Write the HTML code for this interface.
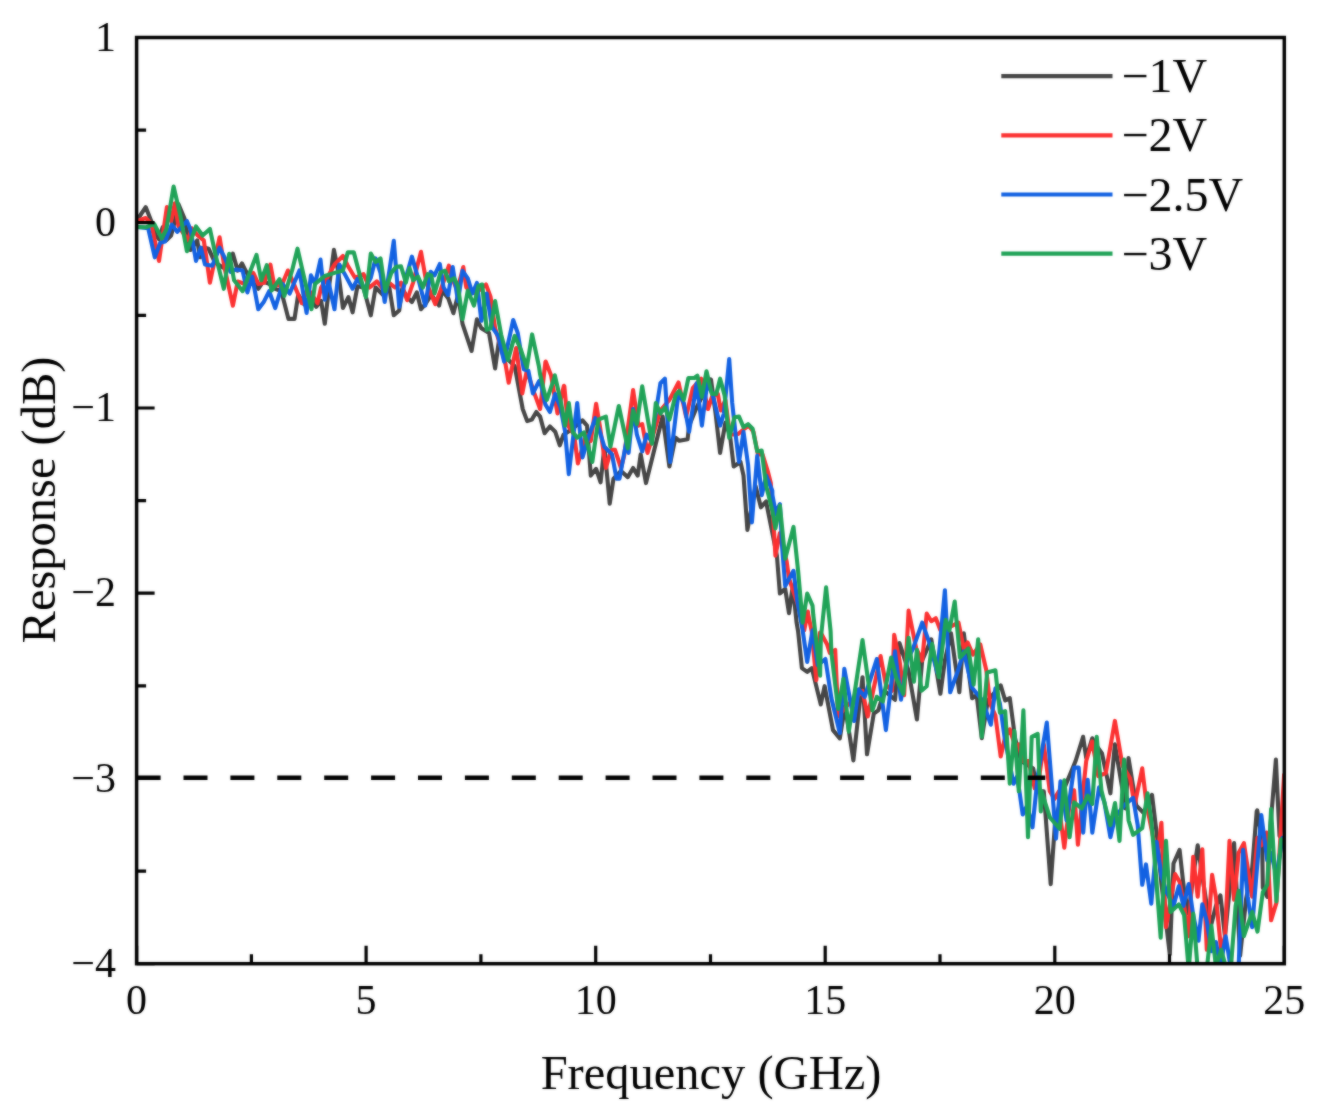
<!DOCTYPE html>
<html lang="en"><head><meta charset="utf-8"><title>Frequency response</title>
<style>
html,body{margin:0;padding:0;background:#fff;}
body{width:1322px;height:1117px;overflow:hidden;}
svg{display:block;}
text{font-family:"Liberation Serif","Times New Roman",serif;fill:#000;}
.tk{font-size:42px;}
.lb{font-size:48.5px;}
.lg{font-size:48px;}
</style></head><body>
<svg width="1322" height="1117" viewBox="0 0 1322 1117">
<defs><clipPath id="pc"><rect x="136.6" y="37.5" width="1147.7" height="926.2"/></clipPath>
<filter id="soft" x="0" y="0" width="1322" height="1117" filterUnits="userSpaceOnUse" color-interpolation-filters="sRGB"><feGaussianBlur in="SourceGraphic" stdDeviation="0.9" result="b"/><feComposite in="SourceGraphic" in2="b" operator="arithmetic" k1="0" k2="0.5" k3="0.5" k4="0"/></filter></defs>
<g filter="url(#soft)">
<rect width="1322" height="1117" fill="#fff"/>
<g clip-path="url(#pc)" fill="none" stroke-width="4.1" stroke-linejoin="round" stroke-linecap="round">
<path d="M137.3 219.8 L145.7 207.1 L151.2 221.0 L156.0 235.5 L159.0 239.1 L162.7 227.0 L166.3 240.4 L171.1 235.5 L174.2 223.4 L178.4 204.0 L184.5 218.6 L190.5 250.0 L197.2 240.4 L200.2 257.3 L203.8 247.6 L208.7 248.8 L214.7 262.1 L222.0 267.0 L226.8 269.4 L232.9 253.7 L237.7 270.6 L242.0 263.4 L246.2 271.8 L252.2 281.5 L258.3 288.8 L263.1 281.5 L269.2 283.9 L275.2 288.8 L281.3 291.2 L288.5 318.9 L294.5 318.9 L298.2 294.7 L304.2 304.4 L310.3 297.1 L316.3 306.8 L321.1 300.8 L324.8 323.8 L329.6 282.6 L333.9 249.9 L338.1 270.5 L342.9 308.0 L348.4 297.1 L352.6 312.3 L357.5 286.2 L363.5 287.5 L370.8 315.3 L375.6 287.5 L382.9 294.7 L388.9 285.0 L393.8 315.3 L399.2 310.5 L402.2 288.7 L407.1 297.1 L411.9 302.0 L416.8 292.3 L421.0 309.2 L425.2 304.4 L431.3 294.7 L439.1 305.6 L442.1 290.5 L448.2 298.1 L453.4 313.2 L458.0 295.1 L462.5 323.8 L471.6 351.0 L476.9 319.3 L481.4 328.3 L489.0 332.9 L495.1 368.4 L499.6 335.9 L507.2 358.6 L514.7 366.2 L522.7 409.0 L527.2 421.1 L531.8 419.6 L536.3 412.0 L540.1 416.6 L544.6 433.2 L549.9 426.4 L555.2 431.7 L559.8 445.3 L563.5 434.7 L572.6 428.7 L582.5 420.3 L587.0 425.6 L590.8 475.6 L596.1 468.8 L600.6 482.4 L604.4 446.8 L609.7 503.6 L613.5 478.6 L621.0 471.0 L627.8 477.1 L633.1 468.0 L637.7 475.6 L640.7 454.4 L646.0 483.1 L655.8 443.8 L662.6 416.6 L669.4 466.5 L675.5 437.7 L679.3 440.8 L687.6 439.3 L689.1 425.6 L696.6 407.5 L702.7 395.4 L711.0 379.5 L715.6 413.5 L720.1 452.9 L725.4 422.6 L729.9 434.7 L733.7 466.5 L740.5 462.0 L743.5 475.6 L747.4 529.9 L755.6 486.2 L760.9 507.3 L761.0 507.2 L766.2 501.3 L766.3 502.7 L776.9 555.6 L779.9 593.5 L785.2 588.9 L789.0 613.1 L792.8 585.9 L796.6 622.7 L798.1 631.3 L801.9 668.1 L807.2 671.9 L811.8 668.1 L820.8 704.4 L824.6 686.2 L833.0 730.1 L839.8 738.4 L845.1 705.9 L853.4 760.4 L862.5 677.2 L867.0 754.3 L873.8 713.5 L878.3 710.4 L884.4 690.8 L895.0 699.8 L899.5 643.1 L908.6 671.1 L916.9 719.5 L922.2 660.5 L931.3 639.3 L940.4 693.8 L944.9 660.5 L951.0 633.3 L959.3 692.3 L963.8 633.3 L972.1 698.3 L976.7 695.3 L981.8 738.3 L987.8 700.5 L1000.7 685.4 L1005.2 700.5 L1009.8 698.2 L1015.1 738.3 L1021.1 761.0 L1033.2 768.6 L1037.7 791.3 L1043.8 791.3 L1050.7 884.1 L1055.2 820.5 L1063.5 790.3 L1075.6 761.0 L1083.1 736.8 L1086.2 758.0 L1092.2 738.3 L1096.7 745.9 L1102.0 753.5 L1110.4 793.3 L1114.9 744.4 L1125.6 808.4 L1128.5 758.0 L1136.2 805.4 L1143.7 813.0 L1152.0 794.8 L1157.3 838.7 L1161.4 883.2 L1169.8 954.3 L1173.5 863.5 L1179.6 849.9 L1184.1 890.8 L1188.7 913.5 L1193.2 875.6 L1197.7 845.4 L1202.3 875.6 L1206.8 905.9 L1211.4 924.1 L1215.9 905.9 L1220.4 895.3 L1225.0 936.2 L1229.5 890.8 L1234.1 843.1 L1240.1 955.8 L1246.2 898.3 L1252.2 868.1 L1256.7 811.3 L1257.2 810.3 L1262.2 840.5 L1262.8 887.7 L1267.3 896.8 L1270.0 831.3 L1275.9 759.6 L1279.5 835.9 L1284.1 803.9" stroke="#454545"/>
<path d="M137.3 221.0 L145.7 218.0 L151.2 223.4 L159.0 260.9 L166.9 207.1 L171.1 221.0 L174.8 203.4 L178.4 225.8 L188.1 240.4 L191.7 228.3 L197.8 235.5 L203.8 240.4 L209.9 282.7 L219.6 237.3 L224.4 267.0 L232.9 305.7 L237.7 281.5 L245.0 283.9 L253.4 273.0 L258.3 283.9 L264.3 282.7 L270.4 264.6 L274.0 283.9 L281.3 286.3 L287.9 270.5 L293.3 282.6 L301.8 303.2 L307.8 288.7 L317.5 303.2 L321.1 287.5 L327.2 277.8 L334.5 264.5 L342.9 256.0 L347.8 265.7 L355.0 277.8 L363.5 274.1 L369.6 287.5 L376.8 281.4 L382.9 288.7 L388.9 282.6 L395.0 287.5 L401.0 282.6 L407.1 300.2 L413.1 282.6 L421.0 251.8 L426.4 282.6 L435.3 304.1 L440.6 290.5 L448.9 265.6 L451.2 275.4 L457.2 290.5 L463.3 267.1 L466.3 287.5 L475.4 293.5 L486.0 284.5 L490.5 296.6 L495.1 328.3 L501.1 348.0 L505.6 364.6 L508.7 382.8 L516.2 348.0 L522.3 393.4 L526.8 370.7 L534.4 393.4 L540.1 409.0 L545.4 362.1 L545.7 361.6 L551.0 375.2 L551.4 377.2 L557.5 413.5 L563.9 385.8 L564.3 386.3 L568.1 425.6 L574.1 434.7 L577.9 463.5 L586.2 434.7 L590.8 440.8 L596.1 403.7 L599.8 425.6 L605.9 468.0 L611.2 449.8 L615.0 449.8 L621.0 468.0 L624.1 455.9 L633.1 390.1 L638.4 425.6 L642.2 424.1 L647.5 452.9 L651.3 440.8 L660.4 410.5 L669.4 399.9 L678.5 382.5 L686.1 416.6 L692.9 387.8 L701.2 378.7 L708.0 409.0 L712.5 395.4 L717.8 393.9 L720.8 410.5 L725.4 399.9 L729.9 434.7 L738.2 434.0 L744.3 428.7 L748.8 425.6 L753.4 431.7 L757.9 454.4 L762.5 454.4 L767.7 471.0 L770.8 483.1 L773.9 529.9 L775.4 555.6 L779.9 533.0 L786.7 561.7 L789.0 578.3 L796.6 601.0 L804.1 625.2 L804.2 630.3 L807.9 611.6 L808.0 613.6 L811.7 631.3 L816.3 680.2 L820.1 632.5 L820.8 632.8 L826.9 643.9 L829.9 653.0 L835.2 649.9 L838.2 716.5 L846.6 705.9 L855.6 698.3 L862.5 690.8 L867.7 716.5 L880.6 656.0 L885.9 684.7 L892.0 690.8 L894.2 634.8 L899.5 660.5 L904.1 695.3 L908.6 610.6 L916.2 648.4 L922.2 660.5 L926.7 613.6 L931.3 621.2 L935.8 618.2 L940.4 630.3 L949.4 627.2 L958.5 622.7 L963.8 648.4 L967.6 642.4 L972.9 654.5 L980.3 644.5 L986.3 670.3 L990.1 703.5 L995.4 715.6 L1000.7 756.5 L1005.2 736.8 L1009.8 729.3 L1015.1 745.9 L1018.8 744.4 L1022.6 761.0 L1028.7 761.0 L1034.7 788.3 L1039.3 776.2 L1043.8 744.4 L1049.8 791.3 L1054.4 798.9 L1058.9 791.3 L1059.8 813.0 L1064.3 847.7 L1069.6 803.9 L1074.1 790.3 L1077.9 844.7 L1083.2 790.3 L1086.2 761.0 L1092.2 741.4 L1098.3 776.2 L1105.8 773.1 L1114.9 720.9 L1122.5 765.6 L1130.1 778.2 L1134.6 805.4 L1142.2 768.3 L1146.7 805.4 L1152.8 835.6 L1157.3 856.8 L1161.4 822.7 L1166.0 927.1 L1175.1 874.1 L1179.6 881.7 L1184.1 905.9 L1188.7 936.2 L1193.2 856.7 L1197.7 896.8 L1202.3 849.2 L1206.8 949.8 L1212.1 874.9 L1215.9 896.8 L1221.2 951.3 L1225.0 936.2 L1229.5 840.8 L1234.1 899.8 L1238.6 853.0 L1243.9 843.1 L1247.7 868.1 L1252.2 896.8 L1257.5 837.8 L1261.3 845.4 L1266.6 832.5 L1271.1 920.3 L1276.4 902.9 L1280.5 835.9 L1284.1 774.7" stroke="#fb3030"/>
<path d="M137.3 227.0 L148.2 228.3 L154.8 257.3 L160.3 242.8 L165.1 241.6 L171.8 224.6 L177.2 231.9 L186.9 221.0 L190.5 229.5 L196.0 260.9 L200.8 247.6 L205.0 264.6 L212.3 265.8 L219.6 247.6 L225.6 259.7 L230.5 271.8 L236.5 269.4 L242.6 270.6 L247.4 292.4 L252.2 276.7 L258.3 309.3 L263.7 302.1 L269.2 291.2 L275.2 308.1 L282.5 283.9 L289.7 293.5 L299.4 270.5 L306.6 312.9 L310.9 275.4 L315.1 283.8 L320.5 259.6 L324.8 299.6 L328.4 281.4 L334.5 309.2 L339.3 264.5 L344.1 272.9 L352.6 288.7 L357.5 279.0 L364.7 288.7 L370.8 277.8 L375.6 258.4 L380.5 272.9 L384.7 302.0 L393.8 240.9 L399.2 306.8 L405.9 277.8 L411.9 256.6 L418.0 277.8 L425.2 305.6 L430.7 271.7 L434.5 275.4 L439.8 264.0 L443.6 287.5 L448.2 295.1 L452.7 267.1 L458.0 301.1 L462.5 270.8 L467.8 278.4 L472.4 293.5 L476.9 283.0 L481.4 320.8 L486.7 293.5 L492.0 326.8 L498.1 335.9 L504.1 361.6 L513.2 320.0 L517.7 332.9 L523.8 369.2 L528.3 370.7 L532.9 393.4 L538.9 381.3 L540.1 380.3 L545.4 404.5 L549.9 412.0 L555.2 393.9 L560.5 407.5 L565.1 431.7 L568.8 474.1 L577.2 403.0 L582.5 457.4 L589.3 434.7 L595.3 418.1 L599.8 431.7 L604.4 446.8 L612.0 454.4 L616.5 478.6 L619.5 478.6 L627.1 437.7 L628.6 452.9 L633.1 409.0 L636.9 434.7 L642.2 451.4 L646.7 434.7 L651.3 440.8 L660.4 383.3 L664.9 378.7 L670.2 462.0 L678.5 392.4 L683.8 403.0 L689.1 431.7 L696.6 383.3 L701.9 425.6 L707.2 383.3 L712.5 393.9 L720.1 425.6 L723.9 413.5 L729.2 359.1 L732.2 403.0 L736.0 437.7 L739.0 462.0 L743.5 431.7 L748.1 465.0 L751.9 522.4 L757.2 455.9 L761.7 493.7 L761.8 495.1 L766.2 475.6 L772.3 490.7 L772.4 495.1 L775.3 510.4 L775.4 514.8 L779.8 504.3 L779.9 504.2 L782.2 548.1 L785.2 585.9 L793.5 570.8 L797.3 601.0 L802.6 629.8 L807.2 662.0 L812.5 630.3 L817.8 665.1 L825.4 659.0 L831.4 698.3 L839.8 733.1 L844.3 668.8 L854.1 721.0 L858.7 689.3 L864.7 696.8 L876.8 659.0 L885.9 730.1 L895.0 651.4 L901.0 699.8 L907.1 660.5 L913.1 648.4 L922.2 622.7 L929.8 643.9 L937.3 672.6 L944.9 590.2 L950.2 692.3 L957.8 671.1 L963.8 651.4 L972.1 687.7 L982.5 700.5 L990.8 724.7 L995.4 688.4 L999.9 703.5 L1004.5 736.8 L1013.5 783.7 L1017.3 776.2 L1022.7 814.5 L1027.2 805.4 L1032.5 827.3 L1037.7 776.2 L1046.8 722.5 L1052.9 798.9 L1056.0 838.7 L1060.5 781.2 L1066.6 820.5 L1074.1 767.6 L1078.7 767.6 L1083.2 832.6 L1087.7 779.7 L1092.3 832.6 L1099.1 787.2 L1104.4 802.4 L1110.4 837.2 L1115.0 817.5 L1124.1 805.4 L1133.1 797.8 L1137.7 825.1 L1142.2 884.8 L1146.0 864.4 L1151.3 903.7 L1156.6 841.7 L1161.4 875.6 L1166.0 890.8 L1173.5 905.9 L1178.8 886.2 L1183.4 905.9 L1188.7 884.0 L1193.2 915.0 L1198.5 940.7 L1202.3 904.4 L1206.8 921.0 L1211.4 951.3 L1215.9 942.2 L1220.4 966.4 L1225.7 936.2 L1231.0 969.4 L1234.1 964.9 L1238.6 967.9 L1243.1 849.9 L1247.7 896.8 L1252.2 927.1 L1261.3 815.1 L1267.3 860.5 L1271.1 853.0 L1276.4 875.6 L1282.5 837.8" stroke="#1261e2"/>
<path d="M137.3 227.0 L145.7 227.3 L154.2 224.0 L161.7 238.5 L166.3 229.5 L173.6 186.5 L180.2 214.9 L186.9 251.2 L196.0 226.4 L202.6 235.5 L209.9 228.9 L215.3 253.7 L223.8 288.8 L229.2 253.7 L234.1 280.3 L242.6 291.2 L256.5 254.9 L261.3 280.3 L266.8 265.2 L271.6 290.6 L279.5 279.1 L284.3 296.0 L292.1 270.5 L297.5 248.7 L304.2 277.8 L311.5 309.2 L315.1 283.8 L324.8 276.0 L334.5 272.9 L342.9 270.5 L347.8 252.4 L353.8 252.4 L359.9 275.4 L365.9 297.1 L370.8 253.6 L375.6 262.0 L380.5 258.4 L385.3 291.1 L391.3 272.9 L396.2 266.9 L401.0 266.3 L405.9 282.6 L409.5 268.1 L413.1 280.2 L418.0 276.6 L422.8 287.5 L427.7 274.1 L431.3 275.4 L434.5 293.5 L440.6 272.4 L445.1 270.8 L448.9 281.4 L454.2 278.4 L458.0 286.0 L462.5 319.3 L467.8 290.5 L473.9 305.6 L478.4 286.0 L482.2 284.5 L486.7 329.8 L490.5 328.3 L495.1 301.1 L501.1 334.4 L507.9 360.1 L514.7 335.9 L520.8 349.5 L526.8 367.7 L532.1 334.4 L538.9 366.2 L540.1 374.2 L545.0 394.9 L546.9 399.9 L554.5 377.2 L554.8 375.2 L560.5 399.9 L565.1 425.6 L568.8 403.0 L572.6 431.7 L577.2 437.7 L584.0 432.5 L592.3 462.0 L598.3 419.6 L605.9 416.6 L610.4 446.8 L618.8 406.0 L627.8 448.3 L633.1 410.5 L636.9 424.1 L642.2 386.3 L652.0 443.8 L655.8 403.0 L660.4 413.5 L664.9 407.5 L669.4 419.6 L675.5 395.4 L679.3 390.8 L683.8 399.9 L688.4 378.0 L694.4 378.0 L697.4 375.7 L701.9 396.9 L706.5 371.2 L711.8 393.9 L716.3 393.9 L720.1 378.7 L724.6 395.4 L729.2 437.7 L734.5 417.3 L739.0 416.6 L743.5 427.2 L748.1 424.1 L752.6 428.7 L757.2 451.4 L761.7 450.6 L766.2 486.2 L769.3 498.2 L772.3 510.4 L775.4 528.4 L779.9 505.7 L785.2 558.7 L793.5 526.9 L798.1 570.8 L802.6 622.2 L802.7 622.7 L807.2 593.5 L812.5 605.6 L813.3 615.1 L820.1 675.6 L820.8 638.9 L826.1 587.4 L830.6 631.3 L831.4 653.0 L838.2 708.9 L843.5 678.7 L848.8 731.6 L862.5 640.1 L872.3 710.4 L876.8 696.8 L882.9 701.4 L891.2 657.5 L896.5 678.7 L903.3 693.8 L908.6 637.8 L913.9 681.7 L916.9 649.9 L921.5 690.8 L926.7 686.2 L932.0 643.9 L938.9 677.2 L945.7 619.7 L949.4 630.3 L954.7 601.5 L960.0 657.5 L968.4 648.4 L973.6 684.7 L978.2 639.3 L981.8 736.8 L987.1 672.5 L995.4 670.3 L999.9 712.6 L1005.2 711.1 L1009.8 783.7 L1014.3 730.8 L1018.8 791.3 L1023.4 710.3 L1028.0 837.2 L1031.7 736.8 L1037.7 733.8 L1040.8 811.4 L1041.5 791.3 L1049.9 817.5 L1059.8 828.8 L1064.3 780.4 L1069.6 837.2 L1074.1 802.4 L1081.7 808.4 L1087.7 795.6 L1092.3 803.9 L1096.7 736.8 L1101.4 790.3 L1105.9 808.4 L1110.4 825.1 L1115.0 803.1 L1119.5 840.9 L1124.0 759.5 L1128.6 820.5 L1133.1 834.9 L1142.2 828.1 L1147.5 793.3 L1151.3 820.5 L1155.8 873.5 L1160.7 937.7 L1166.0 840.8 L1170.5 912.0 L1178.8 904.4 L1184.1 915.0 L1188.7 969.4 L1193.2 913.5 L1197.7 969.4 L1202.3 972.5 L1206.8 969.4 L1211.4 925.6 L1215.9 966.4 L1221.2 949.8 L1226.5 969.4 L1231.0 966.4 L1235.6 905.9 L1238.6 890.8 L1243.9 936.2 L1252.2 912.0 L1257.5 931.6 L1262.8 892.3 L1267.3 884.7 L1271.1 809.1 L1276.4 901.4 L1281.0 839.3" stroke="#1fa257"/>
</g>
<path d="M136.6 777.7 H1045.3" stroke="#000" stroke-width="4.5" stroke-dasharray="24 22.9" fill="none"/>
<path d="M136.6 963.7 v-18 M251.4 963.7 v-9.5 M366.1 963.7 v-18 M480.9 963.7 v-9.5 M595.7 963.7 v-18 M710.5 963.7 v-9.5 M825.2 963.7 v-18 M940.0 963.7 v-9.5 M1054.8 963.7 v-18 M1169.5 963.7 v-9.5 M1284.3 963.7 v-18 M136.6 37.5 h18 M136.6 130.1 h9.5 M136.6 222.7 h18 M136.6 315.4 h9.5 M136.6 408.0 h18 M136.6 500.6 h9.5 M136.6 593.2 h18 M136.6 685.8 h9.5 M136.6 778.5 h18 M136.6 871.1 h9.5 M136.6 963.7 h18" stroke="#000" stroke-width="3.2" fill="none"/>
<rect x="136.6" y="37.5" width="1147.7" height="926.2" fill="none" stroke="#000" stroke-width="3.5"/>
<text class="tk" x="136.6" y="1013.5" text-anchor="middle">0</text>
<text class="tk" x="366.1" y="1013.5" text-anchor="middle">5</text>
<text class="tk" x="595.7" y="1013.5" text-anchor="middle">10</text>
<text class="tk" x="825.2" y="1013.5" text-anchor="middle">15</text>
<text class="tk" x="1054.8" y="1013.5" text-anchor="middle">20</text>
<text class="tk" x="1284.3" y="1013.5" text-anchor="middle">25</text>
<text class="tk" x="116" y="50.5" text-anchor="end">1</text>
<text class="tk" x="116" y="235.7" text-anchor="end">0</text>
<text class="tk" x="116" y="421.0" text-anchor="end">−1</text>
<text class="tk" x="116" y="606.2" text-anchor="end">−2</text>
<text class="tk" x="116" y="791.5" text-anchor="end">−3</text>
<text class="tk" x="116" y="976.7" text-anchor="end">−4</text>
<text class="lb" x="711" y="1089" text-anchor="middle">Frequency (GHz)</text>
<text class="lb" transform="translate(54.8 500) rotate(-90)" text-anchor="middle">Response (dB)</text>
<path d="M1001.3 76.1 H1112.5" stroke="#454545" stroke-width="4.2" fill="none"/>
<text class="lg" x="1121.5" y="92.2">−1V</text>
<path d="M1001.3 135.3 H1112.5" stroke="#fb3030" stroke-width="4.2" fill="none"/>
<text class="lg" x="1121.5" y="151.4">−2V</text>
<path d="M1001.3 194.5 H1112.5" stroke="#1261e2" stroke-width="4.2" fill="none"/>
<text class="lg" x="1121.5" y="210.6">−2.5V</text>
<path d="M1001.3 253.7 H1112.5" stroke="#1fa257" stroke-width="4.2" fill="none"/>
<text class="lg" x="1121.5" y="269.8">−3V</text>
</g>
</svg>
</body></html>
